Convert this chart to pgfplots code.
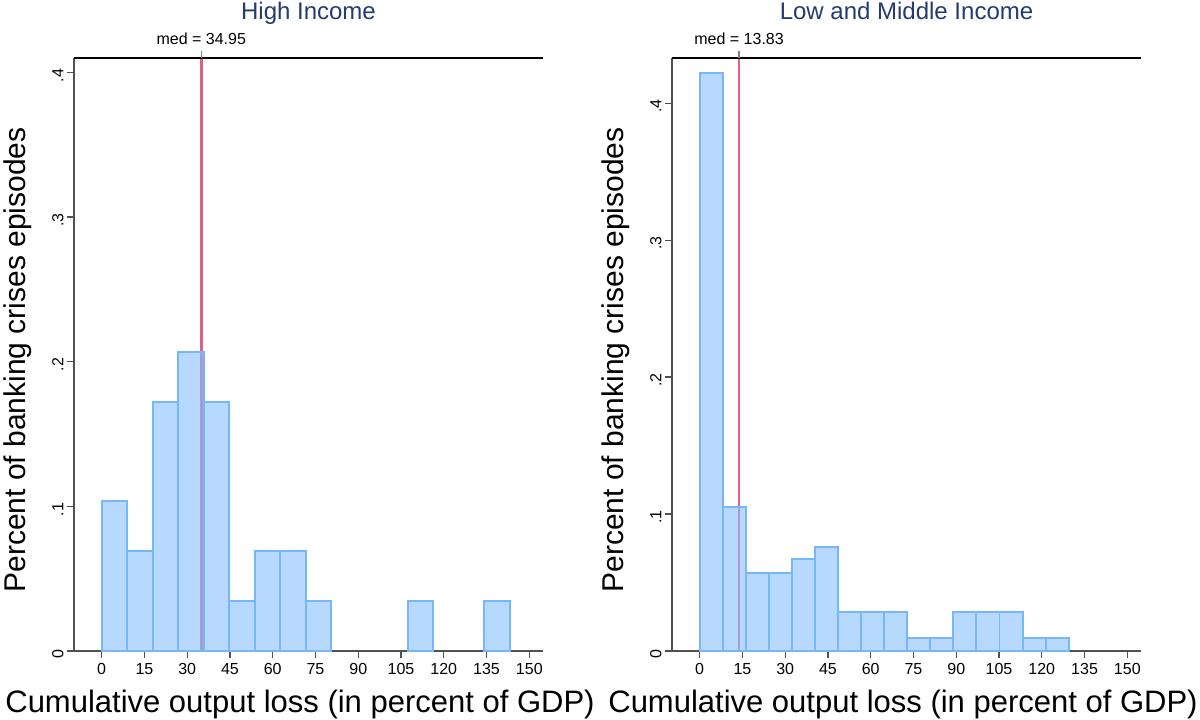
\documentclass[border=0pt]{standalone}
\usepackage{fontspec}
\setmainfont{Liberation Sans}
\usepackage{pgfplots}
\pgfplotsset{compat=1.18}

\definecolor{barfill}{RGB}{137,192,255}
\definecolor{baredge}{RGB}{120,182,252}
\definecolor{medred}{RGB}{222,98,128}
\definecolor{titleblue}{RGB}{35,60,110}
\definecolor{axisgray}{RGB}{80,80,80}

\pgfplotsset{histax/.style={
  scale only axis, width=469pt, height=593pt,
  xmin=-9.7, xmax=154.8, ymin=0,
  axis x line*=bottom, axis y line*=left,
  axis line style={-, axisgray, line width=1.2pt},
  tick align=outside, major tick length=7pt,
  tick style={axisgray, line width=1.2pt},
  xtick={0,15,30,45,60,75,90,105,120,135,150},
  xticklabels={0,15,30,45,60,75,90,105,120,135,150},
  ytick={0,0.1,0.2,0.3,0.4},
  yticklabels={0,.1,.2,.3,.4},
  yticklabel style={rotate=90, anchor=south, xshift=-3pt},
  xticklabel style={yshift=-2pt},
  ticklabel style={font=\fontsize{16}{18}\selectfont},
  /pgf/number format/assume math mode=true,
  clip=false,
}, histbar/.style={ybar, bar shift=0pt, fill=barfill, fill opacity=0.6,
  draw=baredge, draw opacity=1, line width=1.9pt}}

\begin{document}
\begin{tikzpicture}
\useasboundingbox (0,0) rectangle (1200pt,720pt);

% High income
\begin{axis}[histax, at={(74pt,69pt)}, anchor=south west, ymax=0.41]
\addplot[medred, line width=2.6pt] coordinates {(34.95,0) (34.95,0.41)};
\addplot[histbar, bar width=8.95] coordinates {
(4.475,0.1034) (13.425,0.0690) (22.375,0.1724) (31.325,0.2069)
(40.275,0.1724) (49.225,0.0345) (58.175,0.0690) (67.125,0.0690)
(76.075,0.0345) (111.875,0.0345) (138.725,0.0345)};
\draw[black, line width=1.2pt] (rel axis cs:0,1) -- (rel axis cs:1,1);
\draw[gray, line width=1.4pt] (axis cs:34.95,0.41) -- ([yshift=7pt]axis cs:34.95,0.41);
\node[anchor=base, font=\fontsize{16}{18}\selectfont] at (axis cs:34.95,0.41) [yshift=13pt] {med = 34.95};
\node[anchor=base, text=titleblue, font=\fontsize{24}{26}\selectfont] at (rel axis cs:0.5,1) [yshift=38pt] {High Income};
\end{axis}

% Low and middle income
\begin{axis}[histax, at={(672pt,69pt)}, anchor=south west, ymax=0.433]
\addplot[medred, line width=2.6pt] coordinates {(13.83,0) (13.83,0.433)};
\addplot[histbar, bar width=8.09] coordinates {
(4.045,0.422) (12.135,0.105) (20.225,0.057) (28.315,0.057)
(36.405,0.067) (44.495,0.076) (52.585,0.0285) (60.675,0.0285)
(68.765,0.0285) (76.855,0.0095) (84.945,0.0095) (93.035,0.0285)
(101.125,0.0285) (109.215,0.0285) (117.305,0.0095) (125.395,0.0095)};
\draw[black, line width=1.2pt] (rel axis cs:0,1) -- (rel axis cs:1,1);
\draw[gray, line width=1.4pt] (axis cs:13.83,0.433) -- ([yshift=7pt]axis cs:13.83,0.433);
\node[anchor=base, font=\fontsize{16}{18}\selectfont] at (axis cs:13.83,0.433) [yshift=13pt] {med = 13.83};
\node[anchor=base, text=titleblue, font=\fontsize{24}{26}\selectfont] at (rel axis cs:0.5,1) [yshift=38pt] {Low and Middle Income};
\end{axis}

% axis labels
\node[rotate=90, anchor=base, font=\fontsize{30}{34}\selectfont] at (25pt,360pt) {Percent of banking crises episodes};
\node[rotate=90, anchor=base, font=\fontsize{30}{34}\selectfont] at (623pt,360pt) {Percent of banking crises episodes};
\node[anchor=base, font=\fontsize{31}{34}\selectfont] at (300pt,7pt) {Cumulative output loss (in percent of GDP)};
\node[anchor=base, font=\fontsize{31}{34}\selectfont] at (903pt,7pt) {Cumulative output loss (in percent of GDP)};
\end{tikzpicture}
\end{document}
